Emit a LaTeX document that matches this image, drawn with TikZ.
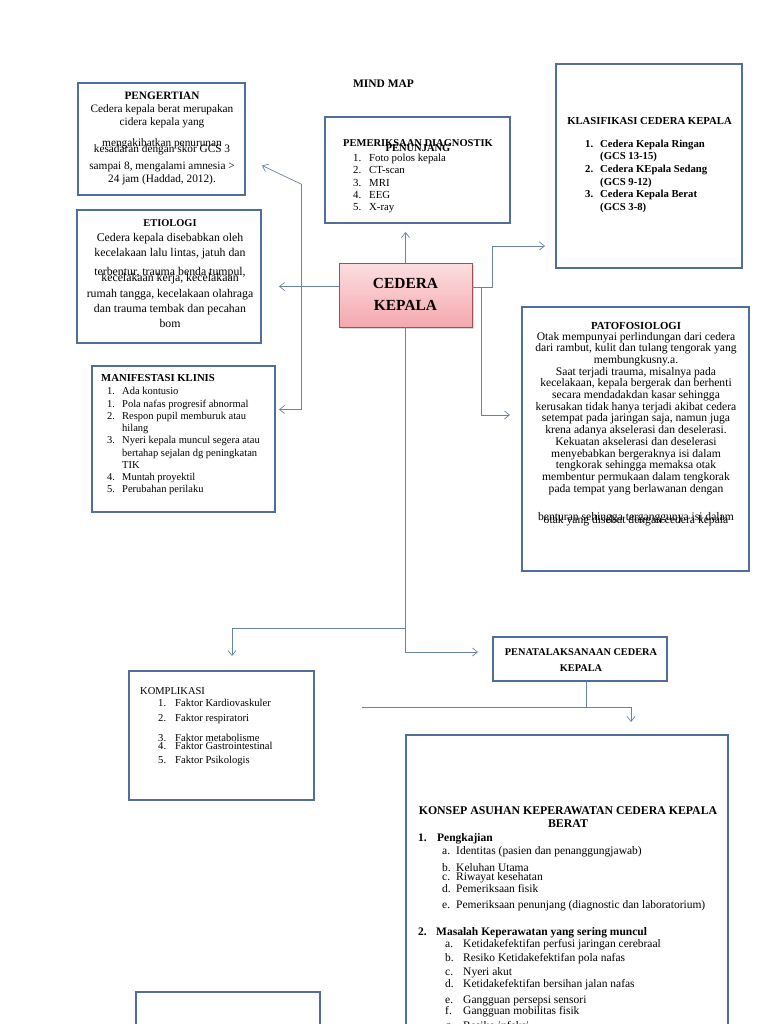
\documentclass[tikz,border=0pt]{standalone}
\usepackage{fontspec}
\setmainfont{Liberation Serif}
\usetikzlibrary{arrows.meta,shadows}
\definecolor{bingkai}{RGB}{80,110,155}
\definecolor{garis}{RGB}{105,130,168}
\definecolor{pinkatas}{RGB}{252,222,224}
\definecolor{pinkbawah}{RGB}{244,168,174}
\definecolor{pinkbingkai}{RGB}{160,80,85}

\begin{document}
\begin{tikzpicture}[x=1pt,y=-1pt,
	kotak/.style={draw=bingkai,line width=1.4pt,fill=white,inner sep=0pt,
		drop shadow={shadow xshift=1.2pt,shadow yshift=-1.2pt,opacity=0.22}},
	sambung/.style={draw=garis,line width=0.7pt},
	panahke/.style={sambung,-{Straight Barb[length=5pt,width=8pt]}},
	isi/.style={inner sep=0pt,align=center,anchor=north},
	daftar/.style={inner sep=0pt,align=left,anchor=north west}]
	\useasboundingbox (0,0) rectangle (768,1024);
	\fill[white] (0,0) rectangle (768,1024);

	\coordinate (pengertian-c) at (161.5,139);
	\coordinate (pemeriksaan-c) at (417.5,170);
	\coordinate (klasifikasi-c) at (649,166);
	\coordinate (etiologi-c) at (169,276.5);
	\coordinate (cedera-c) at (405.5,295);
	\coordinate (manifestasi-c) at (183.5,439);
	\coordinate (patofisiologi-c) at (635.5,439);
	\coordinate (penatalaksanaan-c) at (580,659);
	\coordinate (komplikasi-c) at (221.5,735.5);
	\coordinate (konsep-c) at (567,887.5);
	\coordinate (bawah-c) at (228,1016);

	\coordinate (tengah-kiri) at (339,286.5);
	\coordinate (tip-etiologi) at (279,286.5);
	\coordinate (spine-atas) at (301,184);
	\coordinate (spine-bawah) at (301,409.5);
	\coordinate (tip-pengertian) at (262,165.5);
	\coordinate (tip-manifestasi) at (279,409.5);
	\coordinate (tip-pemeriksaan) at (405.5,232);
	\coordinate (tengah-kanan) at (472,287);
	\coordinate (siku-a) at (492,287);
	\coordinate (siku-b) at (492,246);
	\coordinate (tip-klasifikasi) at (545,246);
	\coordinate (siku-c) at (481,287);
	\coordinate (siku-d) at (481,415);
	\coordinate (tip-patofisiologi) at (510,415);
	\coordinate (siku-e) at (405.5,652);
	\coordinate (tip-penatalaksanaan) at (478,652);
	\coordinate (cabang) at (405.5,628);
	\coordinate (siku-f) at (232,628);
	\coordinate (tip-komplikasi) at (232,656);
	\coordinate (pnt-bawah) at (586,681);
	\coordinate (siku-g) at (586,707);
	\coordinate (siku-h) at (362,707);
	\coordinate (siku-i) at (631,707);
	\coordinate (tip-konsep) at (631,722);

	\node (pengertian) at (pengertian-c) [kotak,minimum width=167,minimum height=112] {};
	\node (pemeriksaan) at (pemeriksaan-c) [kotak,minimum width=185,minimum height=106] {};
	\node (klasifikasi) at (klasifikasi-c) [kotak,minimum width=186,minimum height=204] {};
	\node (etiologi) at (etiologi-c) [kotak,minimum width=184,minimum height=133] {};
	\node (manifestasi) at (manifestasi-c) [kotak,minimum width=183,minimum height=146] {};
	\node (patofisiologi) at (patofisiologi-c) [kotak,minimum width=227,minimum height=264] {};
	\node (penatalaksanaan) at (penatalaksanaan-c) [kotak,minimum width=174,minimum height=44] {};
	\node (komplikasi) at (komplikasi-c) [kotak,minimum width=185,minimum height=129] {};
	\node (konsep) at (konsep-c) [kotak,minimum width=322,minimum height=305] {};
	\node (bawah) at (bawah-c) [kotak,minimum width=184,minimum height=48] {};
	\node (cedera) at (cedera-c) [draw=pinkbingkai,line width=0.9pt,top color=pinkatas,bottom color=pinkbawah,
		minimum width=133,minimum height=64,drop shadow={shadow xshift=1.5pt,shadow yshift=-1.5pt,opacity=0.3}] {};

	\draw[panahke] (tengah-kiri) -- (tip-etiologi);
	\draw[sambung] (spine-atas) -- (spine-bawah);
	\draw[panahke] (spine-atas) -- (tip-pengertian);
	\draw[panahke] (spine-bawah) -- (tip-manifestasi);
	\draw[panahke] (cedera.north) -- (tip-pemeriksaan);
	\draw[panahke] (tengah-kanan) -- (siku-a) -- (siku-b) -- (tip-klasifikasi);
	\draw[panahke] (siku-c) -- (siku-d) -- (tip-patofisiologi);
	\draw[panahke] (cedera.south) -- (siku-e) -- (tip-penatalaksanaan);
	\draw[panahke] (cabang) -- (siku-f) -- (tip-komplikasi);
	\draw[sambung] (pnt-bawah) -- (siku-g);
	\draw[panahke] (siku-h) -- (siku-i) -- (tip-konsep);

	\node (judul) at (383.5,84) [inner sep=0pt,font=\bfseries\fontsize{11.5}{13}\selectfont] {MIND MAP};

	\node (pengertian-teks) at (162,91.5) [isi,font=\fontsize{11.3}{13}\selectfont]
		{\textbf{PENGERTIAN}\\ Cedera kepala berat merupakan\\ cidera kepala yang\\[8pt]
		mengakibatkan penurunan\\[-7pt] kesadaran dengan skor GCS 3\\[4pt]
		sampai 8, mengalami amnesia >\\ 24 jam (Haddad, 2012).};

	\node (pemeriksaan-judul) at (418,139) [isi,font=\bfseries\fontsize{10.5}{12.2}\selectfont]
		{PEMERIKSAAN DIAGNOSTIK\\[-7.2pt] PENUNJANG};
	\node (pemeriksaan-isi) at (353,154) [daftar,font=\fontsize{10.8}{12.2}\selectfont]
		{\makebox[16pt][l]{1.}Foto polos kepala\\ \makebox[16pt][l]{2.}CT-scan\\
		\makebox[16pt][l]{3.}MRI\\ \makebox[16pt][l]{4.}EEG\\ \makebox[16pt][l]{5.}X-ray};

	\node (klasifikasi-judul) at (649.5,116.8) [isi,font=\bfseries\fontsize{10.7}{12.6}\selectfont]
		{KLASIFIKASI CEDERA KEPALA};
	\node (klasifikasi-isi) at (585,139.7) [daftar,font=\bfseries\fontsize{10.7}{12.6}\selectfont]
		{\makebox[15pt][l]{1.}Cedera Kepala Ringan\\ \hspace*{15pt}(GCS 13-15)\\
		\makebox[15pt][l]{2.}Cedera KEpala Sedang\\ \hspace*{15pt}(GCS 9-12)\\
		\makebox[15pt][l]{3.}Cedera Kepala Berat\\ \hspace*{15pt}(GCS 3-8)};

	\node (etiologi-teks) at (170,219.8) [isi,font=\fontsize{11.8}{15}\selectfont]
		{{\bfseries\fontsize{10.4}{15}\selectfont ETIOLOGI}\\ Cedera kepala disebabkan oleh\\
		kecelakaan lalu lintas, jatuh dan\\[4pt] terbentur, trauma benda tumpul,\\[-9pt]
		kecelakaan kerja, kecelakaan\\[1pt] rumah tangga, kecelakaan olahraga\\
		dan trauma tembak dan pecahan\\ bom};

	\node (cedera-teks) at (405.5,277.7) [isi,font=\bfseries\fontsize{15.4}{22}\selectfont] {CEDERA\\ KEPALA};

	\node (manifestasi-judul) at (101,373.8) [daftar,font=\bfseries\fontsize{10.7}{12.25}\selectfont]
		{MANIFESTASI KLINIS};
	\node (manifestasi-isi) at (107,386.7) [daftar,font=\fontsize{10.5}{12.25}\selectfont]
		{\makebox[15pt][l]{1.}Ada kontusio\\[0.75pt] \makebox[15pt][l]{1.}Pola nafas progresif abnormal\\
		\makebox[15pt][l]{2.}Respon pupil memburuk atau\\ \hspace*{15pt}hilang\\
		\makebox[15pt][l]{3.}Nyeri kepala muncul segera atau\\ \hspace*{15pt}bertahap sejalan dg peningkatan\\
		\hspace*{15pt}TIK\\ \makebox[15pt][l]{4.}Muntah proyektil\\ \makebox[15pt][l]{5.}Perubahan perilaku};

	\node (patofisiologi-teks) at (636,321.7) [isi,font=\fontsize{11.6}{11.7}\selectfont]
		{{\bfseries\fontsize{10.8}{11.7}\selectfont PATOFOSIOLOGI}\\[-0.7pt] Otak mempunyai perlindungan dari cedera\\
		dari rambut, kulit dan tulang tengorak yang\\ membungkusny.a.\\
		Saat terjadi trauma, misalnya pada\\ kecelakaan, kepala bergerak dan berhenti\\
		secara mendadakdan kasar sehingga\\ kerusakan tidak hanya terjadi akibat cedera\\
		setempat pada jaringan saja, namun juga\\ krena adanya akselerasi dan deselerasi.\\
		Kekuatan akselerasi dan deselerasi\\ menyebabkan bergeraknya isi dalam\\
		tengkorak sehingga memaksa otak\\ membentur permukaan dalam tengkorak\\
		pada tempat yang berlawanan dengan\\[16.3pt] benturan sehingga terganggunya isi dalam\\[-8.7pt]
		otak yang disebut dengan cedera kepala};

	\node (komplikasi-judul) at (140,687) [daftar,font=\fontsize{10.5}{14}\selectfont] {KOMPLIKASI};
	\node (komplikasi-isi) at (158,699.3) [daftar,font=\fontsize{10.6}{14}\selectfont]
		{\makebox[17pt][l]{1.}Faktor Kardiovaskuler\\[1pt] \makebox[17pt][l]{2.}Faktor respiratori\\[6pt]
		\makebox[17pt][l]{3.}Faktor metabolisme\\[-6pt] \makebox[17pt][l]{4.}Faktor Gastrointestinal\\
		\makebox[17pt][l]{5.}Faktor Psikologis};

	\node (penatalaksanaan-teks) at (581,648) [isi,font=\bfseries\fontsize{10.3}{16}\selectfont]
		{PENATALAKSANAAN CEDERA\\ KEPALA};

	\node (konsep-judul) at (568,806.2) [isi,font=\bfseries\fontsize{11.8}{13}\selectfont]
		{KONSEP ASUHAN KEPERAWATAN CEDERA KEPALA\\ BERAT};
	\node (konsep-satu) at (418,833.2) [daftar,font=\bfseries\fontsize{11.5}{13}\selectfont]
		{\makebox[19pt][l]{1.}Pengkajian};
	\node (konsep-satu-isi) at (442,846) [daftar,font=\fontsize{11.5}{13}\selectfont]
		{\makebox[14pt][l]{a.}Identitas (pasien dan penanggungjawab)\\[4pt]
		\makebox[14pt][l]{b.}Keluhan Utama\\[-4pt] \makebox[14pt][l]{c.}Riwayat kesehatan\\[-1pt]
		\makebox[14pt][l]{d.}Pemeriksaan fisik\\[3pt]
		\makebox[14pt][l]{e.}Pemeriksaan penunjang (diagnostic dan laboratorium)};
	\node (konsep-dua) at (418,927.2) [daftar,font=\bfseries\fontsize{11.5}{13}\selectfont]
		{\makebox[18pt][l]{2.}Masalah Keperawatan yang sering muncul};
	\node (konsep-dua-isi) at (445,939) [daftar,font=\fontsize{11.5}{13}\selectfont]
		{\makebox[18pt][l]{a.}Ketidakefektifan perfusi jaringan cerebraal\\[1pt]
		\makebox[18pt][l]{b.}Resiko Ketidakefektifan pola nafas\\[1pt]
		\makebox[18pt][l]{c.}Nyeri akut\\[-1pt]
		\makebox[18pt][l]{d.}Ketidakefektifan bersihan jalan nafas\\[3pt]
		\makebox[18pt][l]{e.}Gangguan persepsi sensori\\[-2pt]
		\makebox[18pt][l]{f.}Gangguan mobilitas fisik\\[2pt]
		\makebox[18pt][l]{g.}Resiko infeksi};
\end{tikzpicture}
\end{document}
